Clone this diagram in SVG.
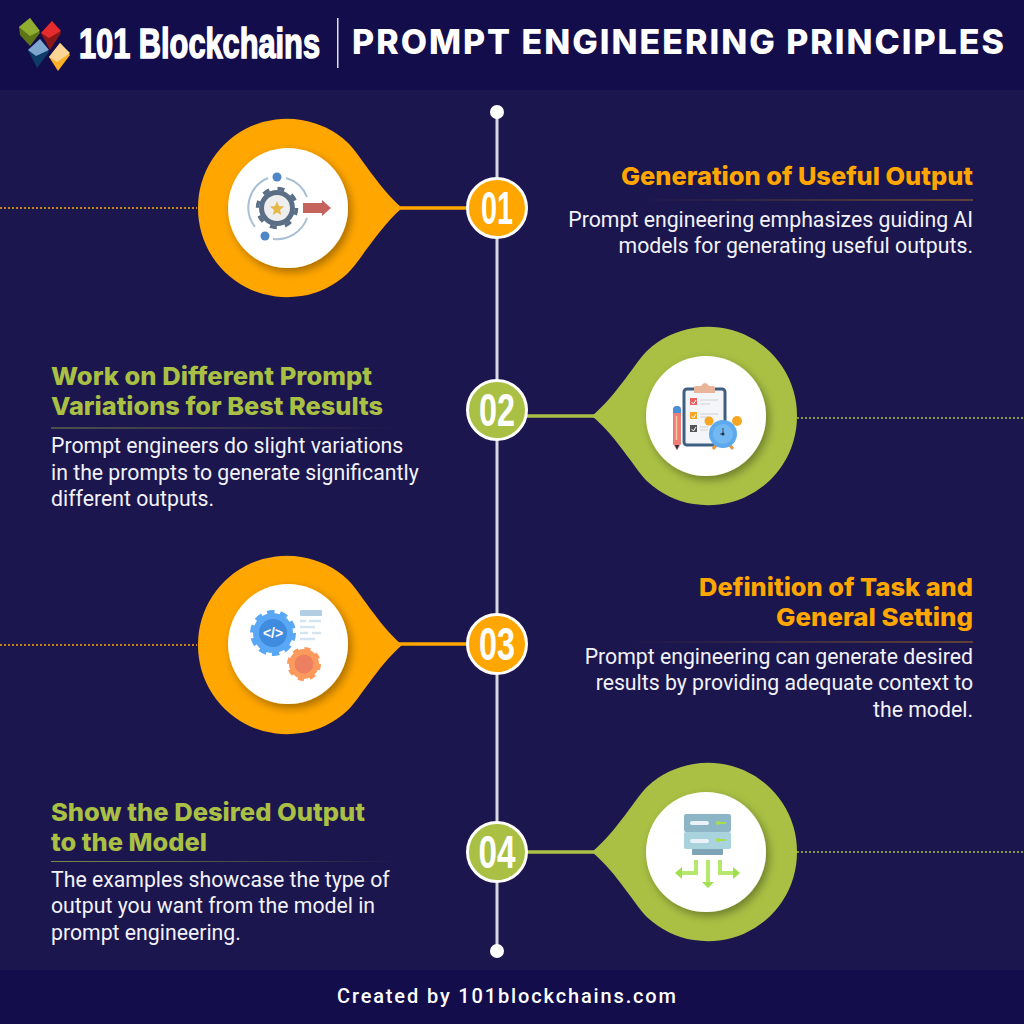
<svg xmlns="http://www.w3.org/2000/svg" width="1024" height="1024" viewBox="0 0 1024 1024">
<defs>
<style>
.h{font-family:"Inter","Open Sans",sans-serif;font-weight:800;font-size:25px}
.b{font-family:"Roboto","Liberation Sans",sans-serif;font-size:21.25px;fill:#f2f2f8}
.o{fill:#ffa600}.g{fill:#a9c044}
.num{font-family:"Liberation Sans","Roboto",sans-serif;font-weight:700;font-size:46px;fill:#fff;text-anchor:middle}
.dot{stroke-width:1.500;stroke-dasharray:2 2;fill:none}
.end{text-anchor:end}
</style>
<filter id="sh" x="-30%" y="-30%" width="160%" height="160%"><feDropShadow dx="3" dy="4" stdDeviation="4" flood-color="#000" flood-opacity=".35"/></filter>
<linearGradient id="fo"><stop offset="0" stop-color="#ffa600" stop-opacity="0"/><stop offset="1" stop-color="#ffa600" stop-opacity=".6"/></linearGradient>
<linearGradient id="fg"><stop offset="0" stop-color="#a9c044" stop-opacity=".7"/><stop offset="1" stop-color="#a9c044" stop-opacity="0"/></linearGradient>
<path id="pinL" d="M-89 0A89 89 0 0 1 60-66C72-55 90-22 115 0C90 22 72 55 60 66A89 89 0 0 1-89 0Z"/>
<path id="pinR" d="M89 0A89 89 0 0 0-60-66C-72-55-90-22-116 0C-90 22-72 55-60 66A89 89 0 0 0 89 0Z"/>
</defs>
<rect width="1024" height="1024" fill="#1c164e"/>
<rect width="1024" height="90" fill="#140d4c"/>
<rect y="970" width="1024" height="54" fill="#140d4c"/>
<g id="logo">
<path d="M19 27 30 18 40 33 30 46 20 35Z" fill="#5d7517"/><path d="M19 27 30 18 40 31 30 36Z" fill="#8fae2f"/>
<path d="M41 33 52 21 61 33 50 50Z" fill="#8a1818"/><path d="M41 33 52 21 61 31 49 38Z" fill="#e52b2b"/>
<path d="M28 50 40 39 49 52 37 68Z" fill="#0f3b68"/><path d="M28 50 40 39 49 50 36 56Z" fill="#7ea6cf"/>
<path d="M49 57 60 43 70 55 58 71Z" fill="#fbb028"/><path d="M49 57 60 43 70 53 57 62Z" fill="#fbd595"/>
<text transform="translate(79 58) scale(.7325 1)" font-family="'Liberation Sans',sans-serif" font-weight="700" font-size="42" fill="#fff" stroke="#fff" stroke-width="1.500">101 Blockchains</text>
</g>
<rect x="337" y="18" width="1.500" height="50" fill="#dfe0ea"/>
<text id="title" x="352" y="54" font-family="Inter,'Open Sans',sans-serif" font-weight="800" font-size="34" fill="#fff" textLength="652" lengthAdjust="spacing">PROMPT ENGINEERING PRINCIPLES</text>
<g id="connectors">
<line x1="497" y1="112" x2="497" y2="951" stroke="#d9d8e2" stroke-width="3"/>
<path class="dot" stroke="#ffa600" d="M0 208H197M0 645H197"/>
<path class="dot" stroke="#a9c044" d="M797 418H1024M797 852H1024"/>
<path d="M398 208H470M398 644H470" stroke="#ffa600" stroke-width="3.500"/>
<path d="M525 416H596M525 852H596" stroke="#a9c044" stroke-width="3.500"/>
</g>
<circle cx="497" cy="112" r="7" fill="#fff"/><circle cx="497" cy="951" r="7" fill="#fff"/>
<g id="node1">
<use href="#pinL" x="287" y="208" class="o"/><circle cx="288" cy="208" r="60" fill="#fff" filter="url(#sh)"/>
<g fill="none" stroke="#a9bfd4" stroke-width="2"><path d="M268 178A32 32 0 0 0 255 227"/><path d="M286 178A32 32 0 0 1 307 197"/><path d="M307 218A32 32 0 0 1 273 239"/></g>
<circle cx="277" cy="177" r="4.500" fill="#4f86c6"/><circle cx="265" cy="236" r="4.500" fill="#4f86c6"/>
<circle cx="277" cy="208" r="19.500" fill="none" stroke="#5a6f86" stroke-width="3.500" stroke-dasharray="7 8.300"/><circle cx="277" cy="208" r="18" fill="#5a6f86"/><circle cx="277" cy="208" r="13" fill="#eee"/>
<path d="M277 201l2 5 5 .5-4 3.500 1.200 5-4.200-2.600-4.200 2.600 1.200-5-4-3.500 5-.5Z" fill="#e6b84a"/>
<path d="M303 203h19v-3l9 8-9 8v-3h-19Z" fill="#c4625c"/>
</g>
<g id="badge1"><circle cx="497" cy="208" r="29.500" class="o" stroke="#fff" stroke-width="3"/><text x="497" y="224" class="num" textLength="32" lengthAdjust="spacingAndGlyphs">01</text></g>
<g id="text1"><text x="973" y="185" class="h o end" textLength="352" lengthAdjust="spacingAndGlyphs">Generation of Useful Output</text><rect x="640" y="199.500" width="333" height="1" fill="url(#fo)"/>
<text x="973" y="227" class="b end">Prompt engineering emphasizes guiding AI</text><text x="973" y="253" class="b end">models for generating useful outputs.</text></g>
<g id="node2">
<use href="#pinR" x="708" y="416" class="g"/><circle cx="706" cy="416" r="60" fill="#fff" filter="url(#sh)"/>
<rect x="684" y="389" width="41" height="56" rx="3" fill="#f3f5f8" stroke="#3f5f82" stroke-width="3"/>
<path d="M694 393v-5q0-2 2-2h5q4-6 8 0h4q2 0 2 2v5Z" fill="#e8b49a"/>
<rect x="690" y="398" width="7" height="7" fill="#e86060"/><rect x="690" y="412" width="7" height="7" fill="#f5a623"/><rect x="690" y="425" width="7" height="7" fill="#555"/>
<path d="M691.500 402l2 2 2.500-4M691.500 416l2 2 2.500-4M691.500 429l2 2 2.500-4" fill="none" stroke="#fff" stroke-width="1"/>
<path d="M700 400h18M700 404h10M700 414h18M700 417h10M700 427h8M700 430h8" stroke="#ddd" stroke-width="1.500"/>
<path d="M673 410a4 4 0 0 1 8 0v34l-4 6-4-6Z" fill="#ee7d74"/><path d="M673 410a4 4 0 0 1 8 0v3h-8Z" fill="#4a90d9"/>
<path d="M676.500 416v24" stroke="#f5c9a8" stroke-width="1.500"/><path d="M675 445h4l-2 5Z" fill="#234"/>
<circle cx="709" cy="421" r="4.500" fill="#f5a623"/><circle cx="737" cy="421" r="5" fill="#f5a623"/><path d="M713 449l4-5M733 449l-4-5" stroke="#e8943a" stroke-width="3"/>
<circle cx="723" cy="434" r="14" fill="#5ca9ee"/><circle cx="723" cy="434" r="10" fill="#74b8f2"/><circle cx="723" cy="434" r="1.500" fill="#234"/><path d="M723 434v-6M723 434h-3" stroke="#234" stroke-width=".8"/>
</g>
<g id="badge2"><circle cx="497" cy="410" r="29.500" class="g" stroke="#fff" stroke-width="3"/><text x="497" y="426" class="num" textLength="36" lengthAdjust="spacingAndGlyphs">02</text></g>
<g id="text2"><text x="51" y="385" class="h g" textLength="321" lengthAdjust="spacingAndGlyphs">Work on Different Prompt</text><text x="51" y="415" class="h g" textLength="332" lengthAdjust="spacingAndGlyphs">Variations for Best Results</text><rect x="51" y="427.500" width="345" height="1" fill="url(#fg)"/>
<text x="51" y="453" class="b">Prompt engineers do slight variations</text><text x="51" y="480" class="b">in the prompts to generate significantly</text><text x="51" y="506" class="b">different outputs.</text></g>
<g id="node3">
<use href="#pinL" x="287" y="645" class="o"/><circle cx="288" cy="644" r="60" fill="#fff" filter="url(#sh)"/>
<circle cx="273" cy="633" r="21" fill="none" stroke="#5aa8f5" stroke-width="4" stroke-dasharray="7.500 5.700"/><circle cx="273" cy="633" r="20" fill="#5aa8f5"/><circle cx="273" cy="633" r="14" fill="#3f8be0"/>
<text x="273" y="638" font-family="'Liberation Sans',sans-serif" font-weight="700" font-size="14" fill="#fff" text-anchor="middle">&lt;/&gt;</text>
<circle cx="304" cy="664" r="15.500" fill="none" stroke="#fb9a5c" stroke-width="3" stroke-dasharray="6 6.170"/><circle cx="304" cy="664" r="15" fill="#fb9a5c"/><circle cx="304" cy="664" r="9.500" fill="#ec8060"/>
<rect x="300" y="610" width="22" height="6" rx="1" fill="#b3cde3"/><path d="M300 621h6M309 621h12M300 627h15M300 633h8M312 633h9M300 639h15" stroke="#d5e4f1" stroke-width="2.500"/>
</g>
<g id="badge3"><circle cx="497" cy="644" r="29.500" class="o" stroke="#fff" stroke-width="3"/><text x="497" y="660" class="num" textLength="36" lengthAdjust="spacingAndGlyphs">03</text></g>
<g id="text3"><text x="973" y="596" class="h o end" textLength="274" lengthAdjust="spacingAndGlyphs">Definition of Task and</text><text x="973" y="626" class="h o end" textLength="197" lengthAdjust="spacingAndGlyphs">General Setting</text><rect x="630" y="641.500" width="343" height="1" fill="url(#fo)"/>
<text x="973" y="664" class="b end">Prompt engineering can generate desired</text><text x="973" y="690" class="b end">results by providing adequate context to</text><text x="973" y="717" class="b end">the model.</text></g>
<g id="node4">
<use href="#pinR" x="708" y="852" class="g"/><circle cx="706" cy="852" r="60" fill="#fff" filter="url(#sh)"/>
<rect x="692" y="846" width="31" height="9" rx="1" fill="#7da3b5"/><rect x="684" y="814" width="47" height="18" rx="2" fill="#8cb6c6"/><rect x="684" y="832" width="47" height="17" rx="2" fill="#a9d3dc"/>
<rect x="690" y="821" width="19" height="4" rx="2" fill="#e8f2f8"/><rect x="690" y="839" width="19" height="4" rx="2" fill="#e8f2f8"/>
<path d="M718 823h8M718 840h8" stroke="#a8e04a" stroke-width="2"/><circle cx="718" cy="823" r="2" fill="#a8e04a"/><circle cx="718" cy="840" r="2" fill="#a8e04a"/>
<path d="M696 860v13h-16M708 860v23M720 860v13h15" fill="none" stroke="#b6e86e" stroke-width="4"/>
<path d="M675 873l7-6v12ZM708 888l-6-6h12ZM740 873l-7-6v12Z" fill="#a0e050"/>
</g>
<g id="badge4"><circle cx="497" cy="852" r="29.500" class="g" stroke="#fff" stroke-width="3"/><text x="497" y="868" class="num" textLength="37" lengthAdjust="spacingAndGlyphs">04</text></g>
<g id="text4"><text x="51" y="821" class="h g" textLength="314" lengthAdjust="spacingAndGlyphs">Show the Desired Output</text><text x="51" y="851" class="h g" textLength="156" lengthAdjust="spacingAndGlyphs">to the Model</text><rect x="51" y="861" width="345" height="1" fill="url(#fg)"/>
<text x="51" y="887" class="b">The examples showcase the type of</text><text x="51" y="913" class="b">output you want from the model in</text><text x="51" y="940" class="b">prompt engineering.</text></g>
<text id="footer" x="337" y="1003" font-family="Roboto,'Liberation Sans',sans-serif" font-weight="500" font-size="20" fill="#fff" textLength="339" lengthAdjust="spacing">Created by 101blockchains.com</text>
</svg>
